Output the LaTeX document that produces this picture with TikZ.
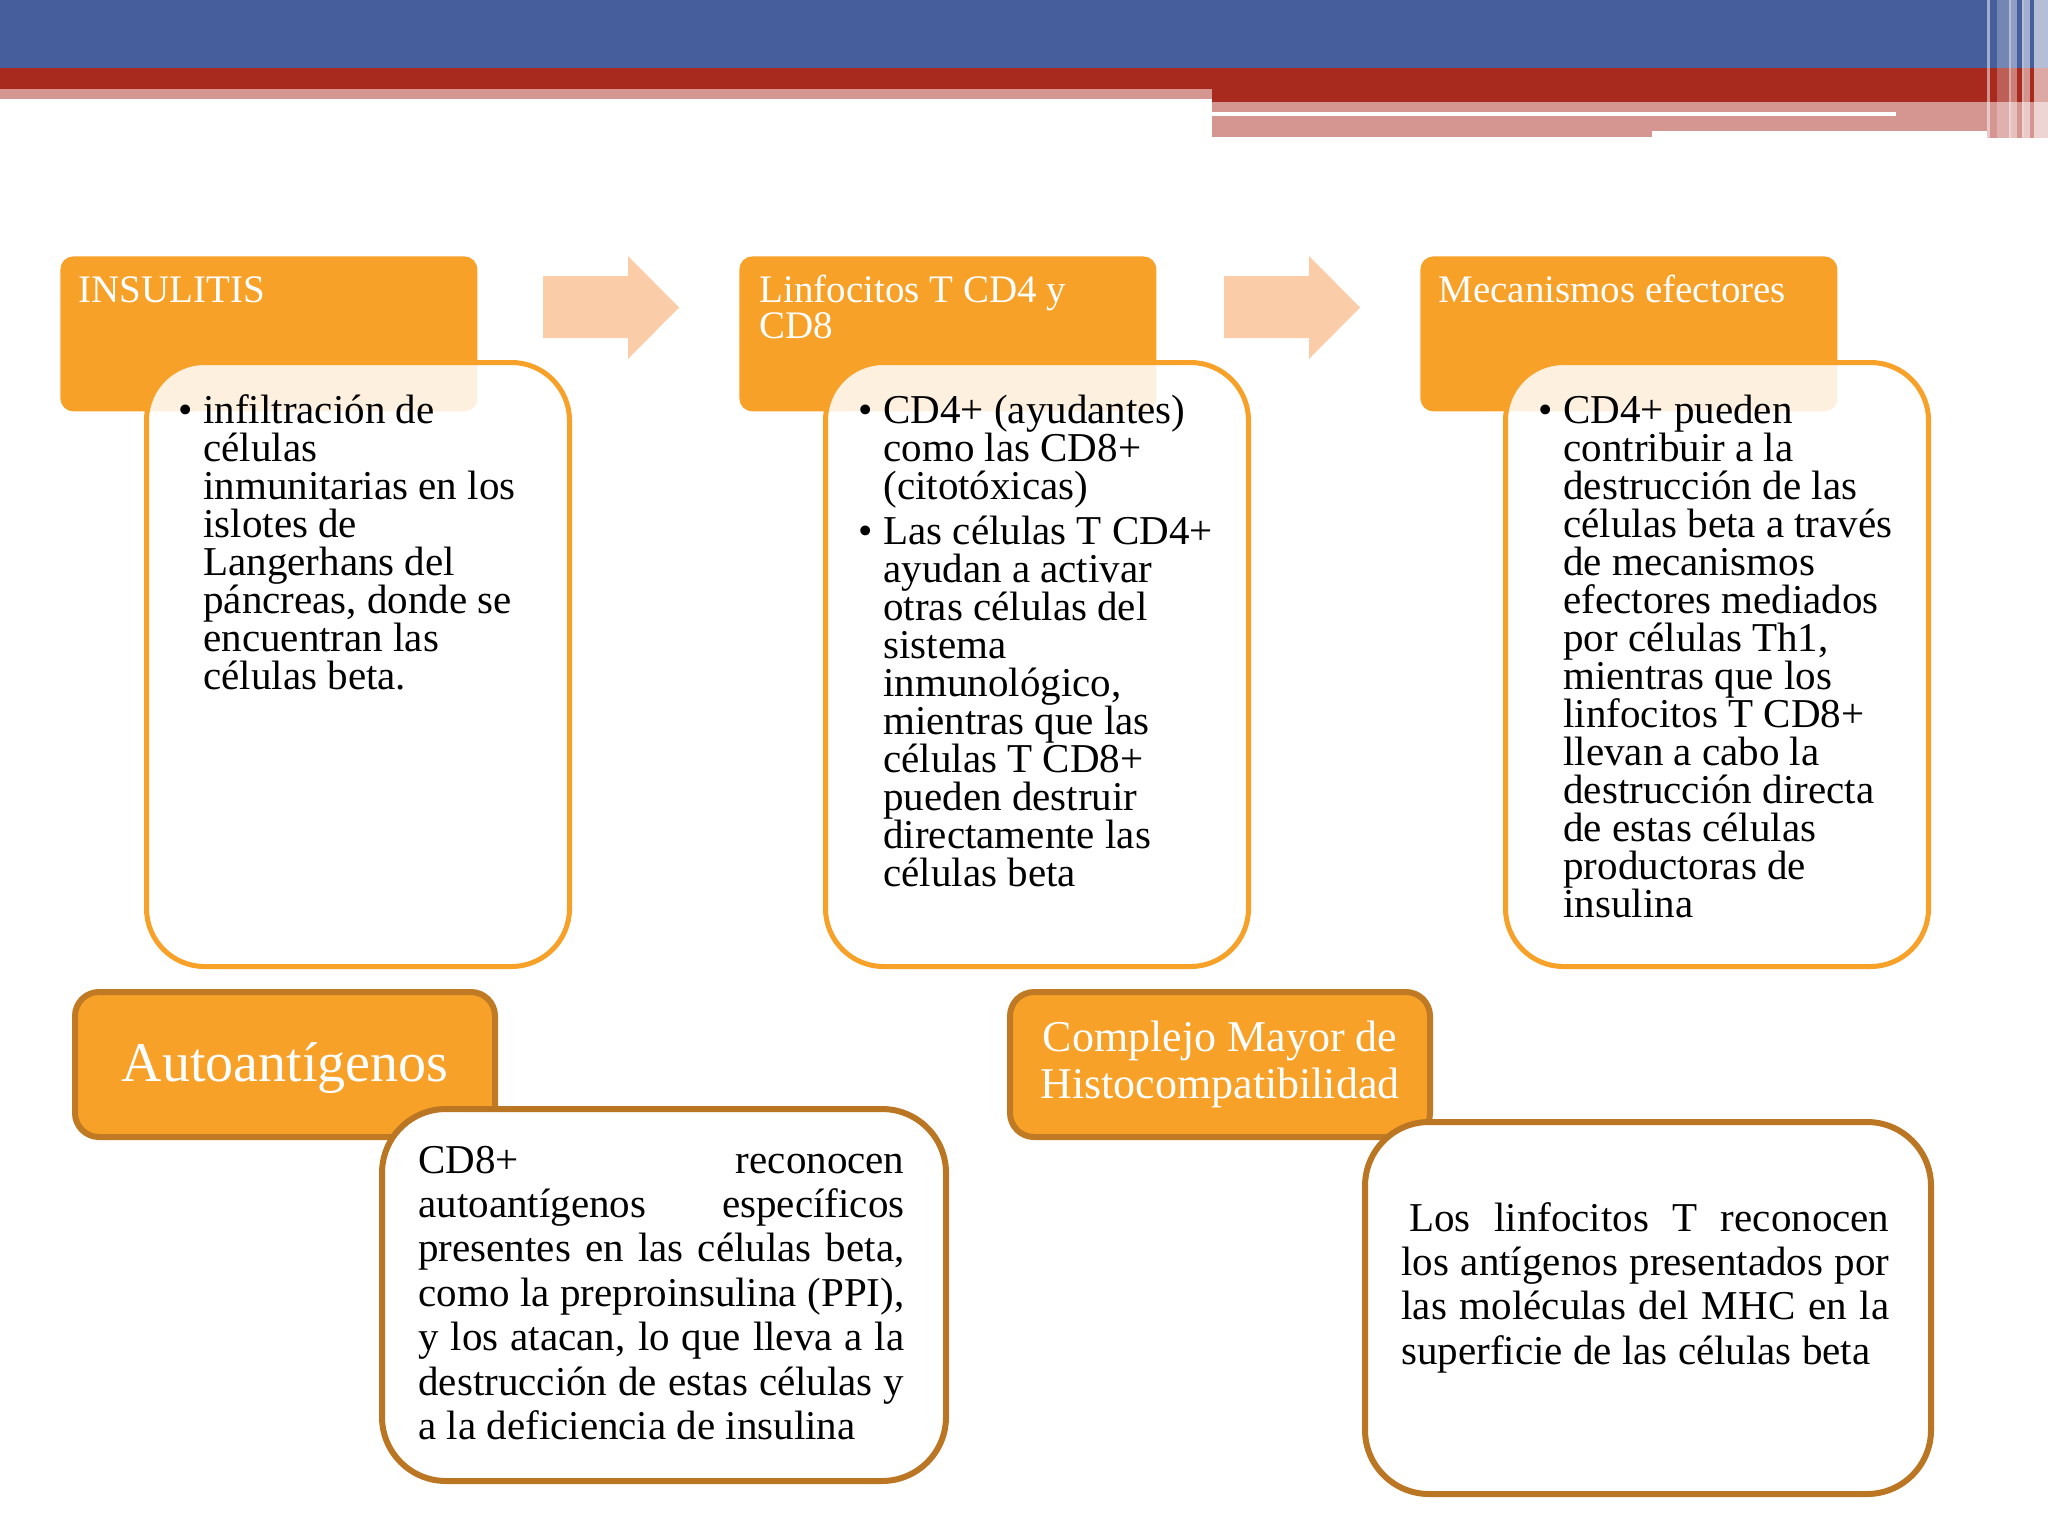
\documentclass[tikz,border=0pt]{standalone}
\usepackage{fontspec}
\setmainfont{Liberation Serif}

\definecolor{bandblue}{RGB}{70,94,156}
\definecolor{bandred}{RGB}{168,42,30}
\definecolor{bandpink}{RGB}{213,150,146}
\definecolor{hdorange}{RGB}{248,161,41}
\definecolor{hdedge}{RGB}{192,122,36}
\definecolor{bdedge}{RGB}{186,118,34}
\definecolor{arrowpeach}{RGB}{251,204,168}

\newcommand{\bul}{\noindent\llap{\makebox[12.5pt][l]{\textbullet}}}
\newcommand{\jline}[1]{\makebox[\linewidth][s]{#1}}
\newcommand{\tightlines}{\setlength{\lineskiplimit}{-20pt}}

\begin{document}
\begin{tikzpicture}[x=0.5pt,y=-0.5pt,
  hdbox/.style={fill=hdorange, rounded corners=6.5pt, inner sep=0pt, anchor=north west, minimum width=208.5pt, minimum height=77.5pt},
  bdbox/.style={draw=hdorange, line width=2.5pt, fill=white, fill opacity=0.85, rounded corners=29pt, inner sep=0pt, anchor=north west, minimum width=211.5pt, minimum height=302pt},
  hdtext/.style={anchor=base west, inner sep=0pt, text=white, font=\fontsize{19.5}{18.3}\selectfont},
  bdtext/.style={anchor=base west, inner sep=0pt, font=\fontsize{20.5}{19}\selectfont},
  tagbox/.style={draw=hdedge, line width=3pt, fill=hdorange, rounded corners=12pt, inner sep=0pt, anchor=north west, minimum width=210pt, minimum height=72.5pt},
  notebox/.style={draw=bdedge, line width=3pt, fill=white, rounded corners=32pt, inner sep=0pt, anchor=north west, minimum height=186pt},
  notetext/.style={anchor=base west, inner sep=0pt, font=\fontsize{20.5}{22.2}\selectfont},
  blockarrow/.style={fill=arrowpeach}]
\useasboundingbox (0,0) rectangle (2048,1536);

% top band
\fill[bandblue] (0,0) rectangle (2048,68);
\fill[bandred] (0,68) rectangle (2048,89);
\fill[bandred] (1212,89) rectangle (2048,102);
\fill[bandpink] (0,89) rectangle (1212,99);
\fill[bandpink] (1212,102) rectangle (1652,137);
\fill[bandpink] (1652,102) rectangle (1987,131);
\fill[bandpink] (1987,102) rectangle (2048,138);
\fill[white] (1212,112) rectangle (1896,116);
\foreach \sx/\sw/\so in {1987/3/0.5, 1997/12/0.25, 2009/2/0.6, 2011/6/0.4, 2022/2/0.6, 2024/6/0.5, 2034/14/0.6}
  \fill[white, opacity=\so] (\sx,0) rectangle ++(\sw,138);

% row 1
\node[hdbox] (insulitis) at (60,256) {};
\node[hdbox] (linfocitos) at (739,256) {};
\node[hdbox] (mecanismos) at (1420,256) {};
\node[hdtext] (insulitistxt) at (78,302) {INSULITIS};
\node[hdtext] (linfocitostxt) at (759,302) {\parbox[t]{200pt}{\raggedright Linfocitos T CD4 y\\CD8}};
\node[hdtext] (mecanismostxt) at (1438,302) {Mecanismos efectores};

\foreach \ax in {543,1224}
  \fill[blockarrow] (\ax,276) -- ++(85,0) -- ++(0,-20) -- ++(51,51.5) -- ++(-51,51.5) -- ++(0,-21) -- ++(-85,0) -- cycle;

\node[bdbox] (insulitisbox) at (144,360) {};
\node[bdbox] (linfocitosbox) at (823,360) {};
\node[bdbox] (mecanismosbox) at (1503,360) {};

\node[bdtext] (insulitisbody) at (178,423) {\parbox[t]{210pt}{\tightlines\hangindent=12.5pt \hangafter=0
\bul infiltración de\\células\\inmunitarias en los\\islotes de\\Langerhans del\\páncreas, donde se\\encuentran las\\células beta.}};
\node[bdtext] (linfocitosbody) at (858,423) {\parbox[t]{210pt}{\tightlines\hangindent=12.5pt \hangafter=0
\bul CD4+ (ayudantes)\\como las CD8+\\(citotóxicas)\\[3.5pt]
\bul Las células T CD4+\\ayudan a activar\\otras células del\\sistema\\inmunológico,\\mientras que las\\células T CD8+\\pueden destruir\\directamente las\\células beta}};
\node[bdtext] (mecanismosbody) at (1538,423) {\parbox[t]{210pt}{\tightlines\hangindent=12.5pt \hangafter=0
\bul CD4+ pueden\\contribuir a la\\destrucción de las\\células beta a través\\de mecanismos\\efectores mediados\\por células Th1,\\mientras que los\\linfocitos T CD8+\\llevan a cabo la\\destrucción directa\\de estas células\\productoras de\\insulina}};

% row 2
\node[tagbox] (autotag) at (72,989) {};
\node[tagbox] (mhctag) at (1007,989) {};
\node[text=white, inner sep=0pt, font=\fontsize{28}{30}\selectfont] (autotitle) at ([yshift=-2pt]autotag.center) {Autoantígenos};
\node[text=white, inner sep=0pt, align=center, font=\fontsize{22}{23.5}\selectfont] (mhctitle) at (mhctag.center) {Complejo Mayor de\\Histocompatibilidad};

\node[notebox, minimum width=282pt] (autonote) at (379,1106) {};
\node[notebox, minimum width=283pt] (mhcnote) at (1362,1119) {};

\node[notetext] (autotxt) at (418,1173) {\parbox[t]{243pt}{\tightlines\jline{CD8+ reconocen}\\\jline{autoantígenos específicos}\\\jline{presentes en las células beta,}\\\jline{como la preproinsulina (PPI),}\\\jline{y los atacan, lo que lleva a la}\\\jline{destrucción de estas células y}\\a la deficiencia de insulina}};
\node[notetext] (mhctxt) at (1401,1231) {\parbox[t]{244pt}{\tightlines\jline{\hspace{4pt}Los linfocitos T reconocen}\\\jline{los antígenos presentados por}\\\jline{las moléculas del MHC en la}\\superficie de las células beta}};
\end{tikzpicture}
\end{document}
